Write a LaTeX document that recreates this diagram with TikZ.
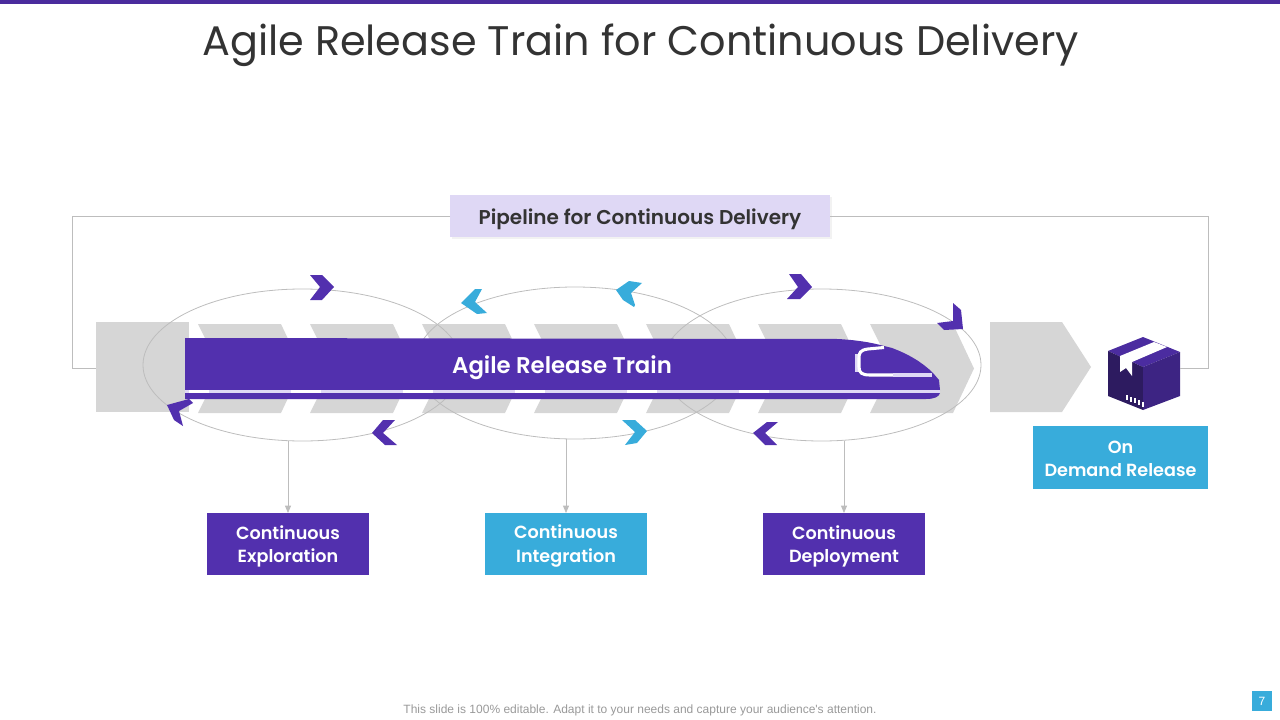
\documentclass[tikz,border=0pt]{standalone}
\usepackage{fontspec}
\setmainfont{Poppins}
\newfontfamily\semib{Poppins SemiBold}
\newfontfamily\footfont{Liberation Sans}
\usetikzlibrary{shapes.geometric,arrows.meta}
\definecolor{trainpurple}{HTML}{5230AE}
\definecolor{cyanbox}{HTML}{38ACDB}
\definecolor{lav}{HTML}{DFD8F5}
\definecolor{grayshape}{HTML}{D6D6D6}
\definecolor{thin}{HTML}{BDBDBD}
\definecolor{titlecol}{HTML}{333333}
\tikzset{
  x=0.75pt,y=-0.75pt,
  every node/.style={inner sep=0pt,outer sep=0pt},
  labelbox/.style n args={3}{fill=#3,minimum width=#1*0.75pt,minimum height=#2*0.75pt},
  labeltext/.style={text=white,align=center,font=\semib\fontsize{13.2pt}{17.3pt}\selectfont},
  orbit/.style={ellipse,draw=thin,line width=0.6pt,minimum width=319*0.75pt,minimum height=152*0.75pt},
  thinline/.style={draw=thin,line width=0.6pt},
  feeder/.style={thinline,-{Triangle[length=5.5pt,width=4.5pt,fill=thin]}},
  chev/.style={fill=grayshape},
  tip/.style={fill=trainpurple},
  tipc/.style={fill=cyanbox}
}
\begin{document}
\begin{tikzpicture}
\useasboundingbox (0,0) rectangle (1280,720);
\fill[trainpurple!90!black] (0,0) rectangle (1280,4);
\node[text=titlecol,font=\fontsize{31pt}{38pt}\selectfont] (title) at (640.5,45.5) {Agile Release Train for Continuous Delivery};

% gray chevron band
\node[fill=grayshape,minimum width=93*0.75pt,minimum height=90*0.75pt] (startblock) at (142.5,367) {};
\foreach \s in {198,310,422,534,646,758,870}{
  \fill[chev] (\s,324) -- (\s+83,324) -- (\s+104,368.5) -- (\s+83,413) -- (\s,413) -- (\s+22,368.5) -- cycle;
}
\fill[chev] (990,322) -- (1062,322) -- (1091,367) -- (1062,412) -- (990,412) -- cycle;

% box icon
\coordinate (boxicon) at (1180,368);
\fill[trainpurple!92!black] (1108,351) -- (1143,337) -- (1180,352) -- (1143,367) -- cycle;
\fill[black!45!trainpurple] (1108,351) -- (1143,367) -- (1143,410) -- (1108,396) -- cycle;
\fill[black!25!trainpurple] (1143,367) -- (1180,352) -- (1180,396) -- (1143,410) -- cycle;
\fill[white] (1120,356) -- (1154,342) -- (1167,347) -- (1132,362) -- (1132,376) -- (1126,368) -- (1120,372) -- cycle;
\foreach \a/\b in {1126/395,1130/396.5,1134/398,1138/400,1142/402}{
  \fill[white] (\a,\b) rectangle ++(1.8,5);
}

% pipeline frame
\fill[black!5] (452,197) rectangle (832,239);
\node[fill=lav,minimum width=380*0.75pt,minimum height=42*0.75pt] (pipe) at (640,216) {};
\node[font=\semib\fontsize{15pt}{18pt}\selectfont,text=titlecol] (pipelabel) at (640,219) {Pipeline for Continuous Delivery};
\draw[thinline] (pipe.west) -- (72,216) -- (72,368) -- (startblock.west |- 0,368);
\draw[thinline] (pipe.east) -- (1208,216) -- (1208,368) -- (boxicon);

% orbits
\node[orbit] (orbA) at (302.5,365) {};
\node[orbit] (orbB) at (575,363) {};
\node[orbit] (orbC) at (821.5,365) {};

% train
\fill[trainpurple] (185,338) -- (838,339) .. controls (855,340) and (870,342) .. (884,346)
  -- (892,348) .. controls (908,354) and (922,362) .. (933,373) -- (939,380) -- (940,390) -- (185,390) -- cycle;
\fill[lav] (185,390) rectangle (940,393);
\fill[white] (189,390) rectangle (209,393);
\foreach \k in {0,1,2,3,4}{
  \fill[white] ({291+112*\k},390) rectangle ({321+112*\k},393);
}
\fill[trainpurple] (185,393) -- (940,393) .. controls (939,397) and (934,399) .. (926,399) -- (185,399) -- cycle;
\draw[lav,line width=3pt] (857,354) -- (857,372);
\draw[white,line width=2.3pt,line join=round] (884,347.5) -- (868,349) .. controls (860,350) and (859,353) .. (859,358) -- (859,367) .. controls (859,373) and (862,375) .. (870,375) -- (893,375);
\draw[lav,line width=2.3pt] (893,375) -- (932,375);
\node[text=white,font=\semib\fontsize{17.1pt}{20pt}\selectfont] (trainlabel) at (562,367.5) {Agile Release Train};

% orbit arrowheads
\fill[tip] (310,275) -- (322,275) -- (334,287) -- (322,300) -- (310,300) -- (320,287) -- cycle;
\fill[tip] (395,420) -- (383,420) -- (372,433) -- (385,445) -- (397,445) -- (383,433) -- cycle;
\fill[tip] (167,405) -- (189,399) -- (193,403) -- (179,411) -- (183,426) -- (174,420) -- cycle;
\fill[tipc] (461,303) -- (475,289) -- (482,289) -- (475,302) -- (487,313) -- (477,314) -- cycle;
\fill[tipc] (616,290) -- (629,281) -- (642,283) -- (631,293) -- (635,305) -- (634,307) -- (623,300) -- cycle;
\fill[tipc] (622,420) -- (635,420) -- (647,431) -- (637,443) -- (625,445) -- (635,432) -- cycle;
\fill[tip] (789,274) -- (801,274) -- (812,287) -- (800,299) -- (787,299) -- (798,287) -- cycle;
\fill[tip] (953,303) -- (961,310) -- (963,329) -- (944,330) -- (937,323) -- (953,321) -- cycle;
\fill[tip] (753,433) -- (767,422) -- (778,422) -- (765,433) -- (777,445) -- (765,445) -- cycle;

% label boxes
\node[labelbox={162}{62}{trainpurple}] (expl) at (288,544) {};
\node[labelbox={162}{62}{cyanbox}] (integ) at (566,544) {};
\node[labelbox={162}{62}{trainpurple}] (depl) at (844,544) {};
\node[labelbox={175}{63}{cyanbox}] (ondemand) at (1120.5,457.5) {};
\node[labeltext] (explT) at (288,546) {Continuous\\Exploration};
\node[labeltext] (integT) at (566,546) {Continuous\\Integration};
\node[labeltext] (deplT) at (844,546) {Continuous\\Deployment};
\node[labeltext] (ondT) at (1120.5,458.5) {On\\Demand Release};

\draw[feeder] (orbA.south -| expl.north) -- (expl.north);
\draw[feeder] (orbB.south -| integ.north) -- (integ.north);
\draw[feeder] (orbC.south -| depl.north) -- (depl.north);

% footer
\node[text=black!40,font=\footfont\fontsize{9pt}{11pt}\selectfont] (foot) at (640,710.5) {This slide is 100\% editable. Adapt it to your needs and capture your audience's attention.};
\node[fill=cyanbox,text=white,minimum width=20*0.75pt,minimum height=20*0.75pt,font=\footfont\fontsize{9pt}{11pt}\selectfont] (pagenum) at (1262,701) {7};
\end{tikzpicture}
\end{document}
